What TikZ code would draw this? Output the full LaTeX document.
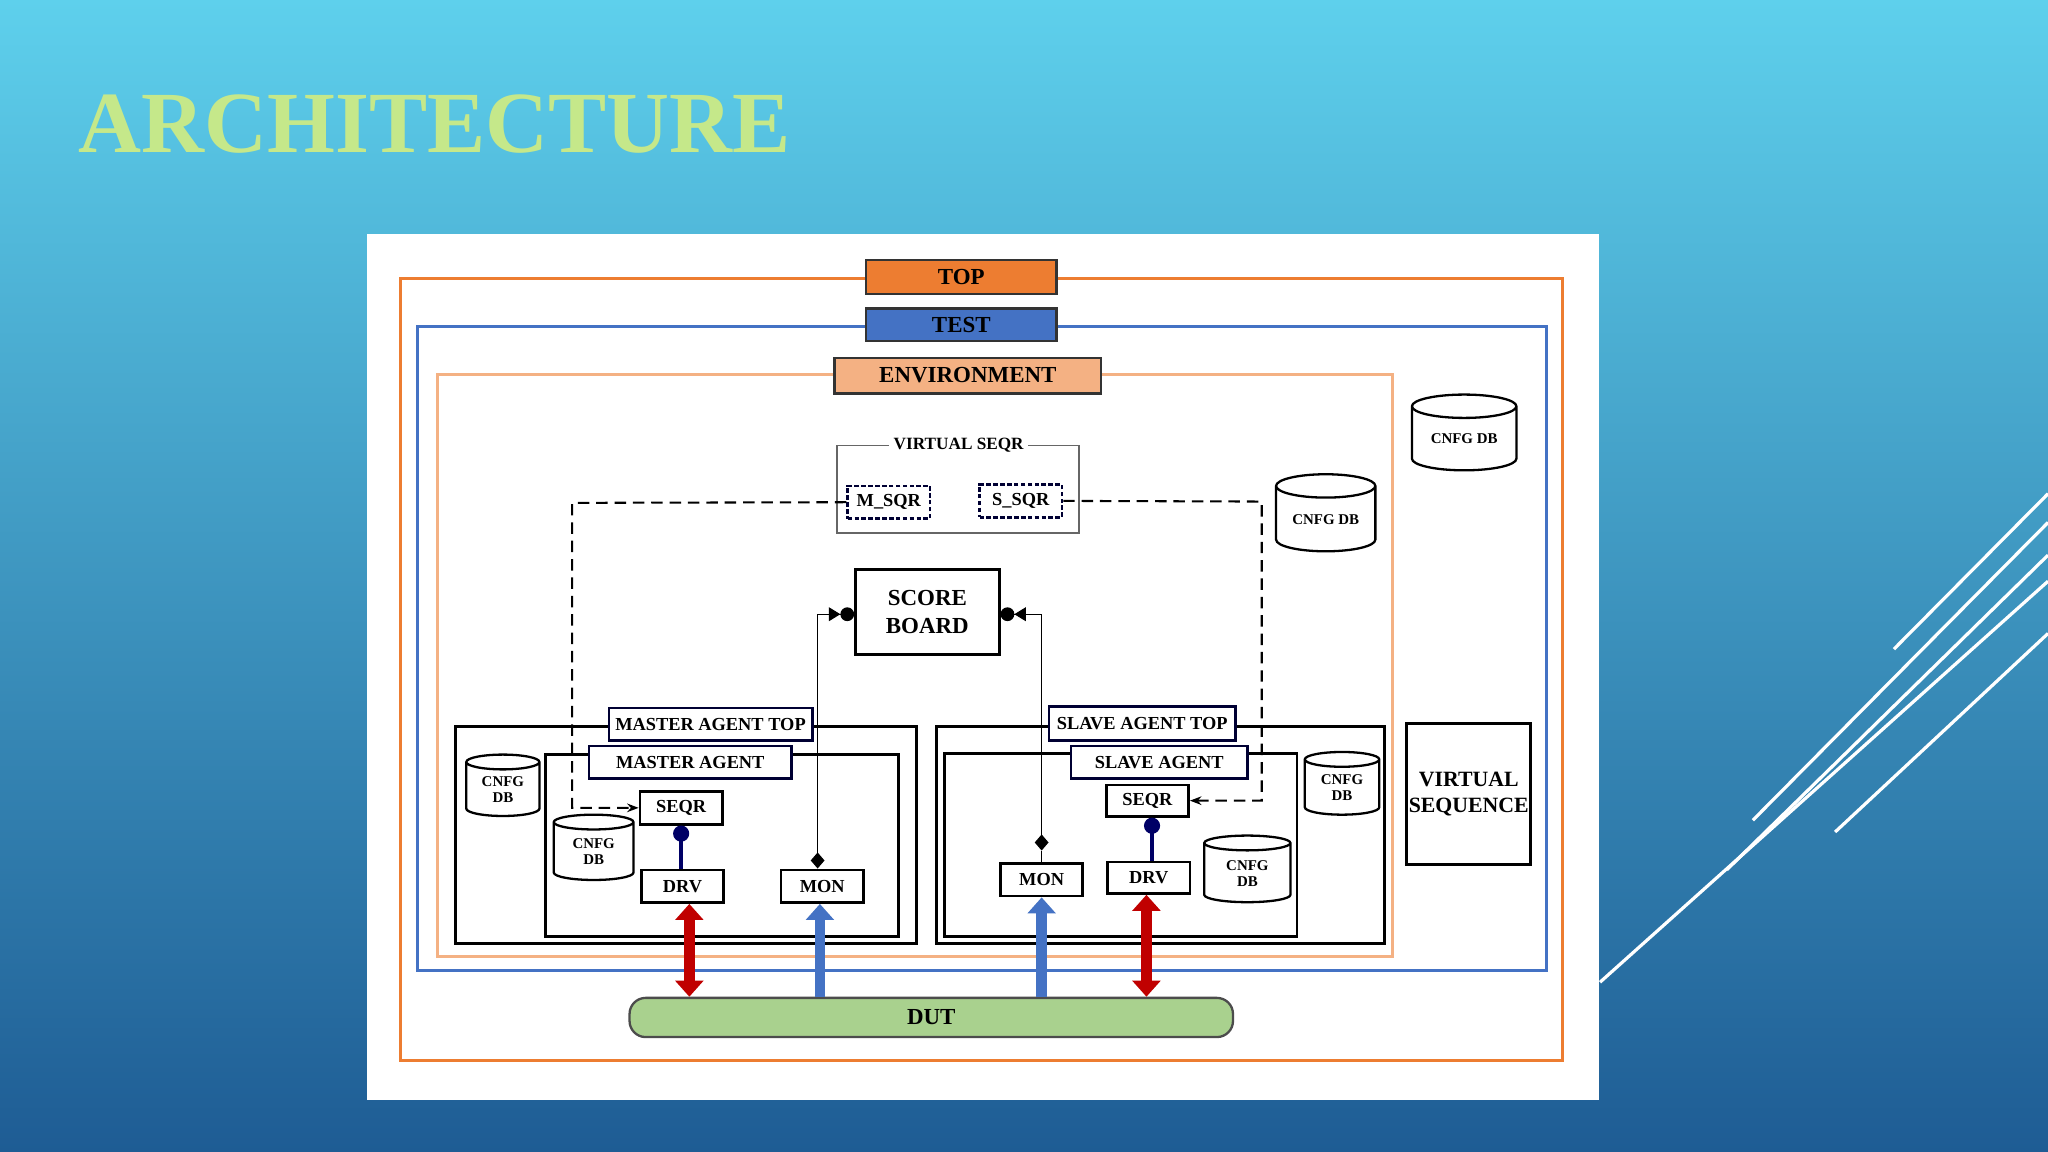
\documentclass[tikz,border=0pt]{standalone}
\usepackage{fontspec}
\setmainfont{Liberation Serif}
\usetikzlibrary{shapes.geometric,arrows.meta}
\definecolor{ctop}{HTML}{ED7D31}
\definecolor{ctest}{HTML}{4472C4}
\definecolor{cenv}{HTML}{F4B183}
\definecolor{cdut}{HTML}{A9D18E}
\definecolor{cred}{HTML}{C00000}
\definecolor{cblue}{HTML}{4472C4}
\definecolor{ctitle}{HTML}{C5E88A}
\newcommand\bx[7]{\node[#6,minimum width={(#4-#2)*0.02cm},minimum height={(#5-#3)*0.02cm}] (#1) at ({(#2+#4)/2},{(#3+#5)/2}) {#7};}
\tikzset{
 box/.style={draw,line width=1.2pt,fill=white,inner sep=0pt,font=\bfseries\fontsize{8}{9}\selectfont,align=center},
 hdr/.style={draw=black!80,line width=1.2pt,inner sep=0pt,font=\bfseries\fontsize{10}{11}\selectfont},
 lbl/.style={draw=black!80!blue,line width=1pt,fill=white,inner sep=0pt,font=\bfseries\fontsize{8}{9}\selectfont},
 dbx/.style={draw=black!80!blue,line width=1.2pt,dashed,dash pattern=on 2pt off 1pt,fill=white,inner sep=0pt,font=\bfseries\fontsize{8}{9}\selectfont},
 db/.style={cylinder,shape border rotate=90,aspect=0.35,draw,line width=1pt,fill=white,inner sep=0pt,align=center,font=\bfseries\fontsize{6.5}{7}\selectfont},
 cont/.style={line width=1.3pt},
 dsh/.style={line width=0.9pt,dash pattern=on 5pt off 3pt},
 thin/.style={line width=0.5pt},
 fat/.style={line width=4.5pt},
 sbtip/.style={thin,{Diamond[length=7pt,width=6pt]}-{Triangle[length=5pt,width=6pt]Circle[length=6pt]}},
}
\begin{document}
\begin{tikzpicture}[x=0.02cm,y=-0.02cm]
\useasboundingbox (0,0) rectangle (1568,882);
\shade[top color={rgb,255:red,94;green,208;blue,236},bottom color={rgb,255:red,30;green,92;blue,148}] (0,0) rectangle (1568,882);
\node[anchor=west,font=\bfseries\fontsize{38}{38}\selectfont,text=ctitle,inner sep=0pt] (title) at (60,95) {ARCHITECTURE};
% decorative lines
\foreach \a/\b/\c/\d in {1225/752/1568/445, 1342/628/1568/400, 1322/666/1568/425, 1405/637/1568/485, 1450/497/1568/378}
  \draw[white,line width=1.4pt] (\a,\b) -- (\c,\d);
% panel
\fill[white] (281,179) rectangle (1224,842);
% containers
\draw[ctop,line width=1.3pt] (307,213) rectangle (1196,812);
\draw[ctest,line width=1.3pt] (320,250) rectangle (1184,743);
\draw[cenv,line width=1.3pt] (335,287) rectangle (1066,732);
\bx{top}{663}{199}{809}{225}{hdr,fill=ctop}{TOP}
\bx{test}{663}{236}{809}{261}{hdr,fill=ctest}{TEST}
\bx{env}{639}{274}{843}{301}{hdr,fill=cenv}{ENVIRONMENT}
\bx{db1}{1081}{307}{1161}{365}{db}{CNFG DB}
\bx{db2}{977}{368}{1053}{427}{db}{CNFG DB}
% virtual seqr
\draw[black!60,line width=0.7pt] (641,341) rectangle (826,408);
\node[fill=white,inner sep=2pt,font=\bfseries\fontsize{7.5}{8}\selectfont] (vs) at (734,341) {VIRTUAL SEQR};
\bx{msqr}{649}{372}{712}{397}{dbx}{M\_SQR}
\bx{ssqr}{750}{371}{813}{396}{dbx}{S\_SQR}
\bx{sb}{655}{436}{765}{501}{box,font=\bfseries\fontsize{10}{12}\selectfont}{SCORE\\BOARD}
% master agent
\draw[cont] (349,556) rectangle (702,722);
\draw[cont] (418,578) rectangle (688,717);
\bx{mat}{466}{542}{622}{567}{lbl}{MASTER AGENT TOP}
\bx{ma}{451}{571}{606}{596}{lbl}{MASTER AGENT}
\bx{mdb1}{357}{581}{413}{628}{db}{CNFG\\DB}
\bx{mdb2}{424}{627}{485}{677}{db}{CNFG\\DB}
\bx{mseqr}{490}{606}{553}{631}{box}{SEQR}
\bx{mdrv}{491}{666}{554}{691}{box}{DRV}
\bx{mmon}{598}{666}{661}{691}{box}{MON}
% slave agent
\draw[cont] (717,556) rectangle (1060,722);
\draw[cont] (723,577) rectangle (993,717);
\bx{sat}{803}{541}{946}{567}{lbl}{SLAVE AGENT TOP}
\bx{sa}{820}{571}{955}{596}{lbl}{SLAVE AGENT}
\bx{sseqr}{847}{601}{910}{625}{box}{SEQR}
\bx{sdrv}{848}{660}{911}{684}{box}{DRV}
\bx{smon}{766}{661}{829}{686}{box}{MON}
\bx{sdb1}{999}{579}{1056}{627}{db}{CNFG\\DB}
\bx{sdb2}{922}{643}{988}{694}{db}{CNFG\\DB}
\bx{vseq}{1077}{554}{1172}{662}{box,font=\bfseries\fontsize{9.5}{11}\selectfont}{VIRTUAL\\SEQUENCE}
\bx{dut}{482}{764}{944}{794}{draw=black!70,line width=1pt,fill=cdut,rounded corners=7pt,inner sep=0pt,font=\bfseries\fontsize{10}{11}\selectfont}{DUT}
% dashed sequencer links
\coordinate (c1) at (438,385);
\coordinate (c2) at (966,384);
\draw[dsh,-{Stealth[length=5pt]}] (msqr.west) -- (c1) |- (mseqr.west);
\draw[dsh,-{Stealth[length=5pt]}] (ssqr.east) -- (c2) |- (sseqr.east);
% monitor to scoreboard
\draw[sbtip] ([xshift=-2pt]mmon.north) |- ([yshift=-1pt]sb.west);
\coordinate (sm) at ([yshift=5pt]smon.north);
\draw[sbtip] (sm) |- ([yshift=-1pt]sb.east);
\draw[thin] (smon.north) -- (sm);
% seqr-drv
\draw[line width=2pt,black!60!blue,{Circle[length=7pt]}-] (mseqr.south) -- (mseqr.south |- mdrv.north);
\draw[line width=2pt,black!60!blue,{Circle[length=7pt]}-] ([xshift=2pt]sseqr.south) -- ([xshift=2pt]sseqr.south |- sdrv.north);
% fat arrows
\draw[fat,cred,{Triangle[length=7pt,width=12pt]}-{Triangle[length=7pt,width=12pt]}] ([xshift=3pt]mdrv.south) -- ([xshift=3pt]mdrv.south |- dut.north);
\draw[fat,cred,{Triangle[length=7pt,width=12pt]}-{Triangle[length=7pt,width=12pt]}] ([xshift=-1pt]sdrv.south) -- ([xshift=-1pt]sdrv.south |- dut.north);
\draw[fat,cblue,-{Triangle[length=7pt,width=12pt]}] ([xshift=-1pt]mmon.south |- dut.north) -- ([xshift=-1pt]mmon.south);
\draw[fat,cblue,-{Triangle[length=7pt,width=12pt]}] (smon.south |- dut.north) -- (smon.south);
\end{tikzpicture}
\end{document}
